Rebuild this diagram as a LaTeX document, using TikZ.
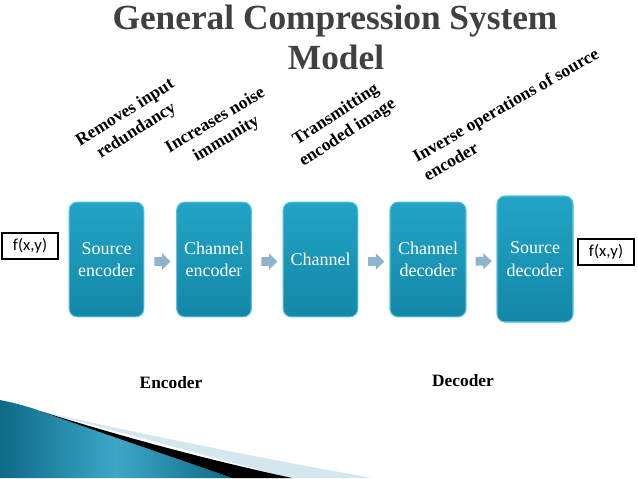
\documentclass[tikz,border=0pt]{standalone}
\usepackage{fontspec}
\setmainfont{Liberation Serif}
\newfontfamily\calfont{Carlito}
\usetikzlibrary{shapes.arrows,calc}
\definecolor{titlegray}{HTML}{404040}
\definecolor{boxtop}{HTML}{22A4C6}
\definecolor{boxbot}{HTML}{1487A7}
\definecolor{boxrim}{HTML}{5CC3DD}
\definecolor{arrowc}{HTML}{8EB3CB}
\definecolor{swdark}{HTML}{0E6A87}
\definecolor{swmid}{HTML}{3DA7C8}
\definecolor{swlight}{HTML}{D4E7EF}
\begin{document}
\begin{tikzpicture}[x=0.75pt,y=-0.75pt,
  stage/.style={rounded corners=6pt, top color=boxtop, bottom color=boxbot,
    draw=boxrim, line width=0.8pt, text=white, align=center,
    font=\fontsize{13.5}{17}\selectfont, inner sep=0pt},
  fbox/.style={draw=black, line width=0.8pt, font=\calfont\fontsize{12.5}{14}\selectfont,
    minimum width=42pt, minimum height=19.5pt, inner sep=1pt},
  note/.style={font=\bfseries\fontsize{13.2}{16}\selectfont, align=center},
  part/.style={font=\bfseries\fontsize{13}{15}\selectfont},
  blockarrow/.style={single arrow, fill=arrowc, draw=none, minimum height=12pt,
    minimum width=12pt, inner xsep=0pt, inner ysep=3pt, single arrow head extend=3pt}
]
\useasboundingbox (0,0) rectangle (638,478);
\fill[white] (0,0) rectangle (638,478);

% title
\node[font=\bfseries\fontsize{26.5}{27}\selectfont, text=titlegray, align=center] (title1) at (335,21) {General Compression System};
\node[font=\bfseries\fontsize{26.5}{27}\selectfont, text=titlegray] (title2) at (336,57) {Model};

% rotated notes
\node[note, rotate=32] (n1) at (131,122) {Removes input\\redundancy};
\node[note, rotate=31] (n2) at (221,130) {Increases noise\\immunity};
\node[note, rotate=33] (n3) at (342,124) {Transmitting\\encoded image};
\node[note, rotate=30, align=left] (n4) at (511,114) {Inverse operations of source\\encoder};

% stages
\node[stage, minimum width=56pt, minimum height=86pt] (se) at (106.5,259.5) {Source\\encoder};
\node[stage, minimum width=56pt, minimum height=86pt] (ce) at (214,259.5) {Channel\\encoder};
\node[stage, minimum width=56pt, minimum height=86pt] (ch) at (320.5,259.5) {Channel};
\node[stage, minimum width=57pt, minimum height=86pt] (cd) at (428,259.5) {Channel\\decoder};
\node[stage, minimum width=57pt, minimum height=94.5pt] (sd) at (535,259) {Source\\decoder};

% block arrows
\node[blockarrow] (a1) at ($(se.east)!0.5!(ce.west)+(0,2)$) {};
\node[blockarrow] (a2) at ($(ce.east)!0.5!(ch.west)+(0,2)$) {};
\node[blockarrow] (a3) at ($(ch.east)!0.5!(cd.west)+(0,2)$) {};
\node[blockarrow] (a4) at ($(cd.east)!0.5!(sd.west)+(0,2)$) {};

% f(x,y) boxes
\node[fbox] (fin) at (30,246) {f(x,y)};
\node[fbox] (fout) at (606,252) {f(x,y)};

% part labels
\node[part] (enc) at (171,383) {Encoder};
\node[part] (dec) at (463,381) {Decoder};

% bottom swoosh
\fill[swlight] (40,411) .. controls (150,436) and (260,458) .. (372,478) -- (290,478) -- cycle;
\shade[left color=swdark, right color=swdark, middle color=swmid]
  (0,400) .. controls (15,403) and (30,407) .. (40,411)
  .. controls (110,436) and (170,456) .. (232,478) -- (0,478) -- cycle;
\fill[black] (40,411) .. controls (120,436) and (200,458) .. (292,478) -- (232,478)
  .. controls (170,456) and (110,436) .. (40,411) -- cycle;
\end{tikzpicture}
\end{document}
